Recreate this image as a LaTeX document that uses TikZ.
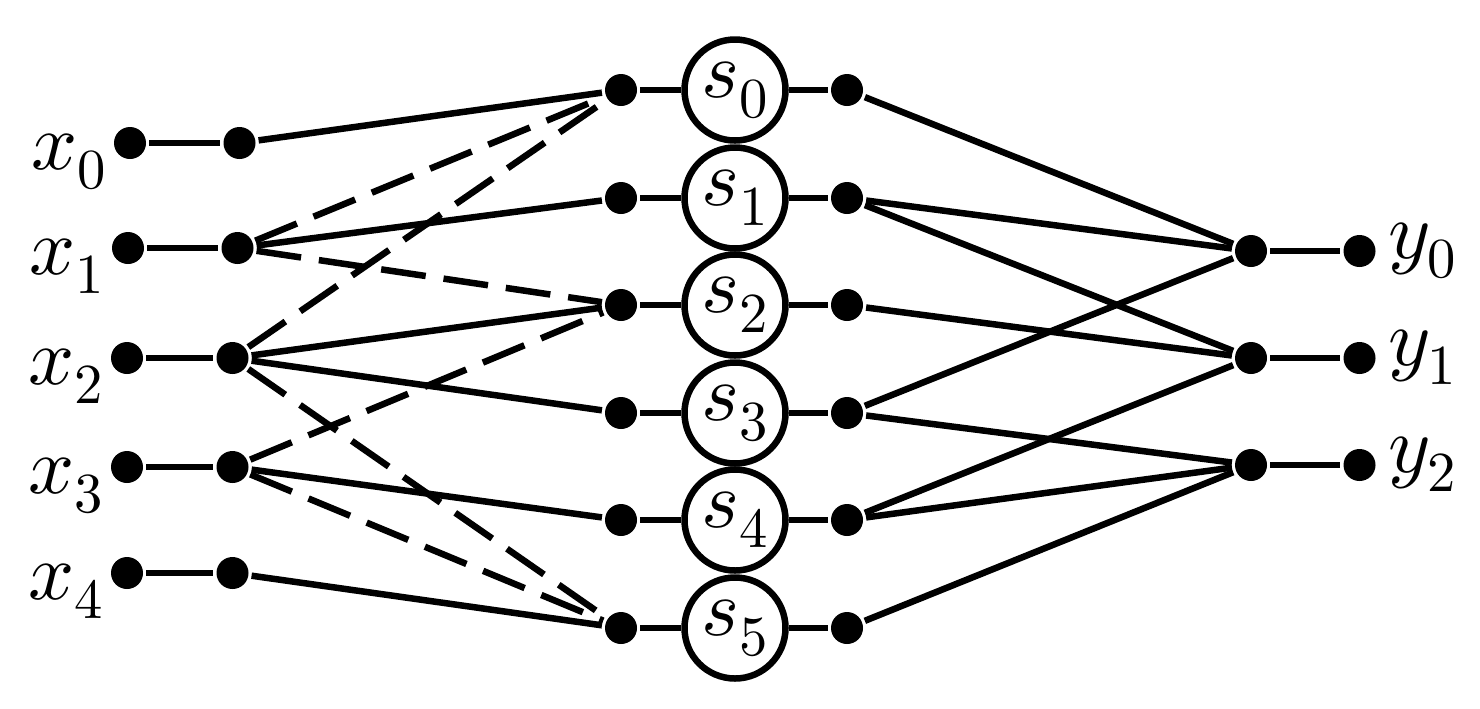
\documentclass[tikz,border=0pt]{standalone}
\usepackage{unicode-math}
\usetikzlibrary{positioning}
\tikzset{
junction/.style={circle, fill=black, inner sep=0pt, minimum size=0.64cm}, % the small black dots
cell/.style={circle, draw, inner sep=0pt, minimum size=2.02cm, font=\fontsize{46}{52}\selectfont}, % the s circles
tag/.style={inner sep=0pt, font=\fontsize{46}{52}\selectfont}, % the x and y labels
link/.style={dash pattern=on 0.9cm off 0.36cm}, % dashed connections
}

\begin{document}
\begin{tikzpicture}[line width=0.13cm]
                \useasboundingbox (0,0) rectangle (29.6,-14.16);
                % inputs
                \node[junction] (x0_in) at (2.6,-2.86) {};
                \node[junction] (x1_in) at (2.56,-4.96) {};
                \node[junction] (x2_in) at (2.54,-7.16) {};
                \node[junction] (x3_in) at (2.54,-9.34) {};
                \node[junction] (x4_in) at (2.54,-11.46) {};
                \node[junction, right=1.42cm of x0_in] (x0_hub) {};
                \node[junction, right=1.42cm of x1_in] (x1_hub) {};
                \node[junction, right=1.34cm of x2_in] (x2_hub) {};
                \node[junction, right=1.34cm of x3_in] (x3_hub) {};
                \node[junction, right=1.34cm of x4_in] (x4_hub) {};
                \node[tag, left=0.02cm of x0_in, anchor=base east, yshift=-0.52cm] (x0) {$x_0$};
                \node[tag, left=0.02cm of x1_in, anchor=base east, yshift=-0.52cm] (x1) {$x_1$};
                \node[tag, left=0.02cm of x2_in, anchor=base east, yshift=-0.52cm] (x2) {$x_2$};
                \node[tag, left=0.02cm of x3_in, anchor=base east, yshift=-0.52cm] (x3) {$x_3$};
                \node[tag, left=0.02cm of x4_in, anchor=base east, yshift=-0.52cm] (x4) {$x_4$};
                % middle column
                \node[cell] (s0) at (14.7,-1.8) {$s_0$};
                \node[cell] (s1) at (14.7,-3.96) {$s_1$};
                \node[cell] (s2) at (14.7,-6.1) {$s_2$};
                \node[cell] (s3) at (14.7,-8.26) {$s_3$};
                \node[cell] (s4) at (14.7,-10.4) {$s_4$};
                \node[cell] (s5) at (14.7,-12.56) {$s_5$};
                \node[junction, left=0.82cm of s0] (s0_in) {};
                \node[junction, left=0.82cm of s1] (s1_in) {};
                \node[junction, left=0.82cm of s2] (s2_in) {};
                \node[junction, left=0.82cm of s3] (s3_in) {};
                \node[junction, left=0.82cm of s4] (s4_in) {};
                \node[junction, left=0.82cm of s5] (s5_in) {};
                \node[junction, right=0.78cm of s0] (s0_out) {};
                \node[junction, right=0.78cm of s1] (s1_out) {};
                \node[junction, right=0.78cm of s2] (s2_out) {};
                \node[junction, right=0.78cm of s3] (s3_out) {};
                \node[junction, right=0.78cm of s4] (s4_out) {};
                \node[junction, right=0.78cm of s5] (s5_out) {};
                % outputs
                \node[junction] (y0_hub) at (25.02,-5.02) {};
                \node[junction] (y1_hub) at (25.02,-7.16) {};
                \node[junction] (y2_hub) at (25.02,-9.3) {};
                \node[junction, right=1.4cm of y0_hub] (y0_out) {};
                \node[junction, right=1.4cm of y1_hub] (y1_out) {};
                \node[junction, right=1.4cm of y2_hub] (y2_out) {};
                \node[tag, right=0.12cm of y0_out, anchor=base west, yshift=-0.14cm] (y0) {$y_0$};
                \node[tag, right=0.12cm of y1_out, anchor=base west, yshift=-0.14cm] (y1) {$y_1$};
                \node[tag, right=0.12cm of y2_out, anchor=base west, yshift=-0.14cm] (y2) {$y_2$};
                \draw
                    (x0_in) edge (x0_hub)
                    (x1_in) edge (x1_hub)
                    (x2_in) edge (x2_hub)
                    (x3_in) edge (x3_hub)
                    (x4_in) edge (x4_hub)
                    (x0_hub) edge (s0_in)
                    (x1_hub) edge (s1_in)
                    (x1_hub) edge[link] (s0_in)
                    (x1_hub) edge[link] (s2_in)
                    (x2_hub) edge (s2_in)
                    (x2_hub) edge (s3_in)
                    (x2_hub) edge[link] (s0_in)
                    (x2_hub) edge[link] (s5_in)
                    (x3_hub) edge (s4_in)
                    (x3_hub) edge[link] (s2_in)
                    (x3_hub) edge[link] (s5_in)
                    (x4_hub) edge (s5_in)
                    (s0_in) edge (s0) (s0) edge (s0_out)
                    (s1_in) edge (s1) (s1) edge (s1_out)
                    (s2_in) edge (s2) (s2) edge (s2_out)
                    (s3_in) edge (s3) (s3) edge (s3_out)
                    (s4_in) edge (s4) (s4) edge (s4_out)
                    (s5_in) edge (s5) (s5) edge (s5_out)
                    (s0_out) edge (y0_hub)
                    (s1_out) edge (y0_hub)
                    (s1_out) edge (y1_hub)
                    (s2_out) edge (y1_hub)
                    (s3_out) edge (y0_hub)
                    (s3_out) edge (y2_hub)
                    (s4_out) edge (y1_hub)
                    (s4_out) edge (y2_hub)
                    (s5_out) edge (y2_hub)
                    (y0_hub) edge (y0_out)
                    (y1_hub) edge (y1_out)
                    (y2_hub) edge (y2_out)
                    ;
                \end{tikzpicture}
\end{document}
